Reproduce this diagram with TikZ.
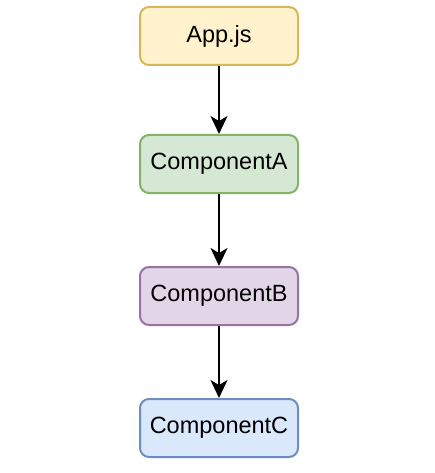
\documentclass[tikz,border=0pt]{standalone}
\usepackage{fontspec}
\setmainfont{Liberation Sans}
\usetikzlibrary{arrows.meta}
\definecolor{yfill}{HTML}{FFF2CC}\definecolor{ydraw}{HTML}{D6B656}
\definecolor{gfill}{HTML}{D5E8D4}\definecolor{gdraw}{HTML}{82B366}
\definecolor{pfill}{HTML}{E1D5E7}\definecolor{pdraw}{HTML}{9673A6}
\definecolor{bfill}{HTML}{DAE8FC}\definecolor{bdraw}{HTML}{6C8EBF}
\begin{document}
\begin{tikzpicture}[x=1pt,y=-1pt,
  box/.style={rectangle, rounded corners=9pt, line width=2pt, minimum width=158pt, minimum height=58pt, inner sep=0pt, font=\fontsize{23.5}{28}\selectfont},
  link/.style={line width=2pt, -{Stealth[length=18pt,width=17pt,inset=5pt]}}]
\useasboundingbox (0,0) rectangle (434,473);
\node[box, fill=yfill, draw=ydraw] (app) at (219,36) {App.js};
\node[box, fill=gfill, draw=gdraw] (a) at (219,164) {ComponentA};
\node[box, fill=pfill, draw=pdraw] (b) at (219,296) {ComponentB};
\node[box, fill=bfill, draw=bdraw] (c) at (219,428) {ComponentC};
\draw[link] (app) -- (a);
\draw[link] (a) -- (b);
\draw[link] (b) -- (c);
\end{tikzpicture}
\end{document}
